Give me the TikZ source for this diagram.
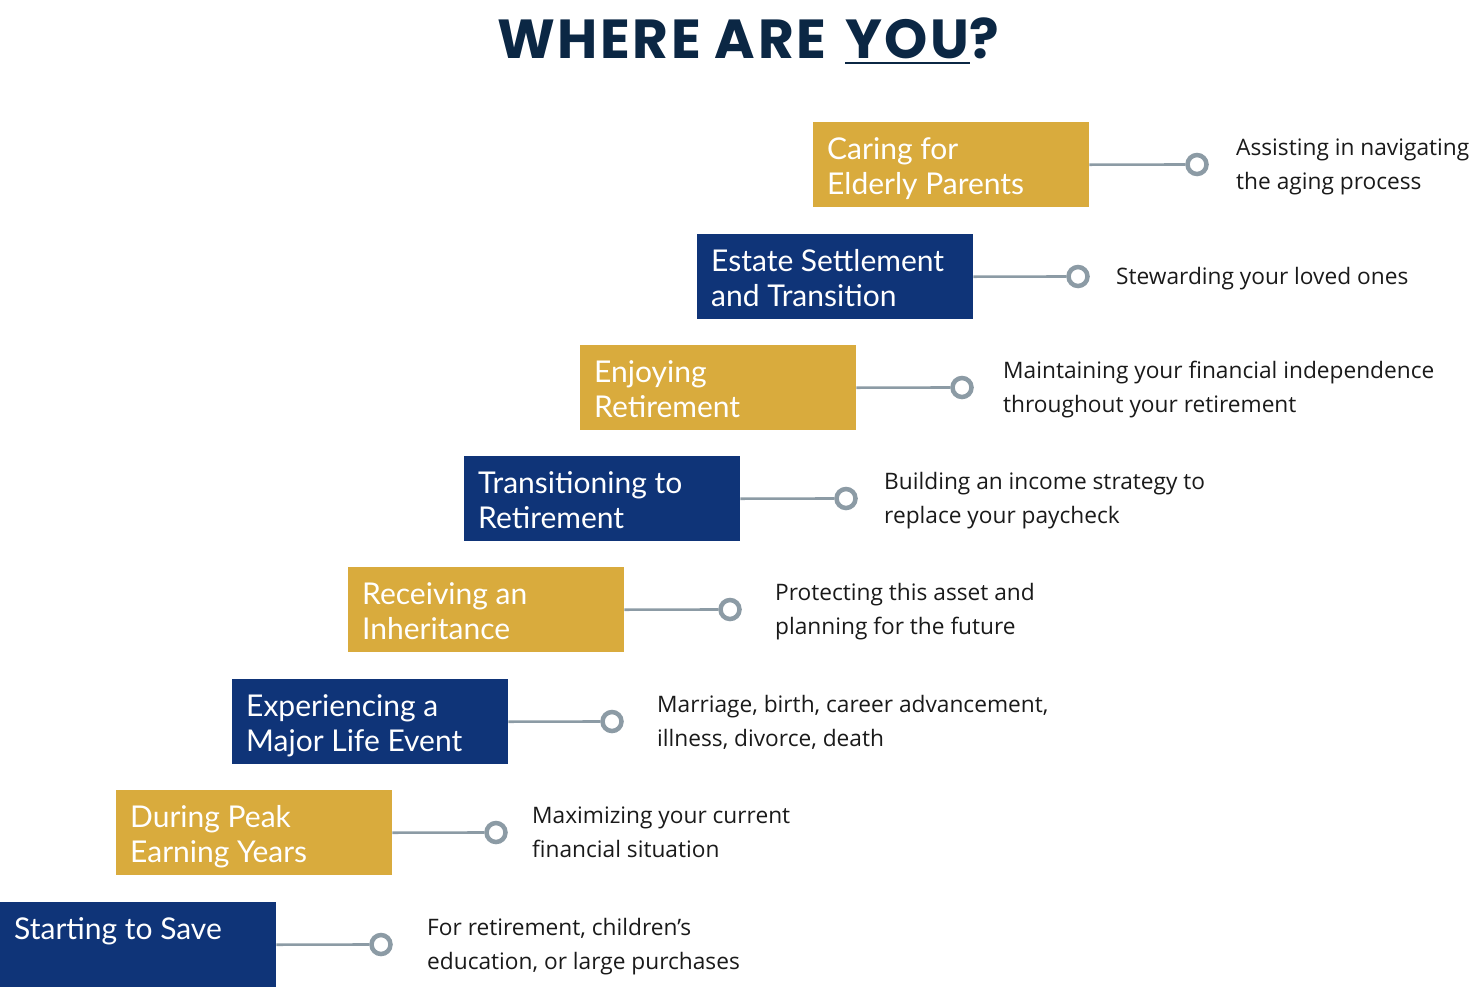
\documentclass[tikz,border=0pt]{standalone}
\usepackage{fontspec}
\setmainfont{Open Sans}
\newfontfamily\boxfont{Lato}
\newfontfamily\titlefont{Poppins}[LetterSpace=4.6]
\definecolor{gold}{HTML}{D9AB3D}
\definecolor{navy}{HTML}{0F3478}
\definecolor{titlenavy}{HTML}{0B2744}
\definecolor{linkgray}{HTML}{8C9BA5}
\definecolor{desctext}{HTML}{1A1A1A}
\tikzset{
  stepbox/.style={rectangle, inner sep=0pt, minimum width=276pt, minimum height=85pt, anchor=north west},
  goldbox/.style={stepbox, fill=gold},
  navybox/.style={stepbox, fill=navy},
  boxtext/.style={anchor=north west, inner sep=0pt, text=white, align=left,
    font=\boxfont\fontsize{30}{35}\selectfont},
  dot/.style={circle, draw=linkgray, line width=4.5pt, minimum size=19pt, inner sep=0pt, fill=white},
  link/.style={draw=linkgray, line width=2.6pt},
  desc/.style={anchor=west, inner sep=0pt, align=left, text=desctext,
    font=\fontsize{22.7}{34}\selectfont},
  titletext/.style={anchor=base west, inner sep=0pt, text=titlenavy,
    font=\titlefont\bfseries\fontsize{55}{60}\selectfont},
}
\newcommand{\sline}[1]{\strut#1}
\begin{document}
\begin{tikzpicture}[x=1pt,y=-1pt]
\useasboundingbox (0,0) rectangle (1481,986);

% title
\node[titletext] (tw) at (497,58) {WHERE ARE};
\node[titletext] (ty) at ([xshift=19pt]tw.base east) {YOU};
\node[titletext] (tq) at (ty.base east) {?};
\coordinate (ul1) at ([yshift=-5pt]ty.base west);
\coordinate (ul2) at ([yshift=-5pt]ty.base east);
\draw[titlenavy, line width=2.8pt] (ul1) -- (ul2);

% 1 Starting to Save
\node[navybox] (b1) at (0,902) {};
\node[boxtext] (t1) at ([xshift=14pt,yshift=-13pt]b1.north west) {\sline{Starting to Save}};
\node[dot] (c1) at (381,944.5) {};
\draw[link] (b1.east) -- (c1.west);
\node[desc] (d1) at (427,945.5) {\sline{For retirement, children’s}\\\sline{education, or large purchases}};

% 2 During Peak Earning Years
\node[goldbox] (b2) at (116,790) {};
\node[boxtext] (t2) at ([xshift=14pt,yshift=-13pt]b2.north west) {\sline{During Peak}\\\sline{Earning Years}};
\node[dot] (c2) at (496,832.5) {};
\draw[link] (b2.east) -- (c2.west);
\node[desc] (d2) at (532,833.5) {\sline{Maximizing your current}\\\sline{financial situation}};

% 3 Experiencing a Major Life Event
\node[navybox] (b3) at (232,679) {};
\node[boxtext] (t3) at ([xshift=14pt,yshift=-13pt]b3.north west) {\sline{Experiencing a}\\\sline{Major Life Event}};
\node[dot] (c3) at (612,721.5) {};
\draw[link] (b3.east) -- (c3.west);
\node[desc] (d3) at (657,722.5) {\sline{Marriage, birth, career advancement,}\\\sline{illness, divorce, death}};

% 4 Receiving an Inheritance
\node[goldbox] (b4) at (348,567) {};
\node[boxtext] (t4) at ([xshift=14pt,yshift=-13pt]b4.north west) {\sline{Receiving an}\\\sline{Inheritance}};
\node[dot] (c4) at (730,609.5) {};
\draw[link] (b4.east) -- (c4.west);
\node[desc] (d4) at (775,610.5) {\sline{Protecting this asset and}\\\sline{planning for the future}};

% 5 Transitioning to Retirement
\node[navybox] (b5) at (464,456) {};
\node[boxtext] (t5) at ([xshift=14pt,yshift=-13pt]b5.north west) {\sline{Transitioning to}\\\sline{Retirement}};
\node[dot] (c5) at (846,498.5) {};
\draw[link] (b5.east) -- (c5.west);
\node[desc] (d5) at (884,499.5) {\sline{Building an income strategy to}\\\sline{replace your paycheck}};

% 6 Enjoying Retirement
\node[goldbox] (b6) at (580,345) {};
\node[boxtext] (t6) at ([xshift=14pt,yshift=-13pt]b6.north west) {\sline{Enjoying}\\\sline{Retirement}};
\node[dot] (c6) at (962,387.5) {};
\draw[link] (b6.east) -- (c6.west);
\node[desc] (d6) at (1003,388.5) {\sline{Maintaining your financial independence}\\\sline{throughout your retirement}};

% 7 Estate Settlement and Transition
\node[navybox] (b7) at (697,234) {};
\node[boxtext] (t7) at ([xshift=14pt,yshift=-13pt]b7.north west) {\sline{Estate Settlement}\\\sline{and Transition}};
\node[dot] (c7) at (1078,276.5) {};
\draw[link] (b7.east) -- (c7.west);
\node[desc] (d7) at (1116,277.5) {\sline{Stewarding your loved ones}};

% 8 Caring for Elderly Parents
\node[goldbox] (b8) at (813,122) {};
\node[boxtext] (t8) at ([xshift=14pt,yshift=-13pt]b8.north west) {\sline{Caring for}\\\sline{Elderly Parents}};
\node[dot] (c8) at (1197,164.5) {};
\draw[link] (b8.east) -- (c8.west);
\node[desc] (d8) at (1236,165.5) {\sline{Assisting in navigating}\\\sline{the aging process}};
\end{tikzpicture}
\end{document}
